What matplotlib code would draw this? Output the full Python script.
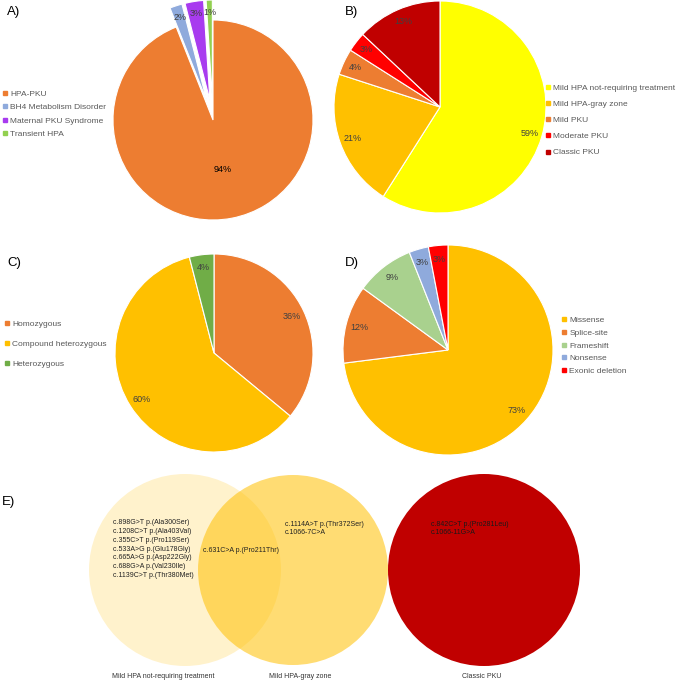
import numpy as np
import matplotlib
matplotlib.use("Agg")
import matplotlib.pyplot as plt
from matplotlib.lines import Line2D
from matplotlib.patches import Circle

plt.rcParams['font.family'] = ['Liberation Sans', 'DejaVu Sans']

# ---------------- DATA ----------------
a_labels = ["HPA-PKU", "BH4 Metabolism Disorder", "Maternal PKU Syndrome", "Transient HPA"]
a_values = [94, 2, 3, 1]
a_colors = ["#ED7D31", "#8FAADC", "#A83BEF", "#92D050"]

b_labels = ["Mild HPA not-requiring treatment", "Mild HPA-gray zone", "Mild PKU",
            "Moderate PKU", "Classic PKU"]
b_values = [59, 21, 4, 3, 13]
b_colors = ["#FFFF00", "#FFC000", "#ED7D31", "#FF0000", "#C00000"]

c_labels = ["Homozygous", "Compound heterozygous", "Heterozygous"]
c_values = [36, 60, 4]
c_colors = ["#ED7D31", "#FFC000", "#70AD47"]

d_labels = ["Missense", "Splice-site", "Frameshift", "Nonsense", "Exonic deletion"]
d_values = [73, 12, 9, 3, 3]
d_colors = ["#FFC000", "#ED7D31", "#A9D18E", "#8FAADC", "#FF0000"]

venn_only_mild = ["c.898G>T p.(Ala300Ser)", "c.1208C>T p.(Ala403Val)",
                  "c.355C>T p.(Pro119Ser)", "c.533A>G p.(Glu178Gly)",
                  "c.665A>G p.(Asp222Gly)", "c.688G>A p.(Val230Ile)",
                  "c.1139C>T p.(Thr380Met)"]
venn_shared = ["c.631C>A p.(Pro211Thr)"]
venn_only_gray = ["c.1114A>T p.(Thr372Ser)", "c.1066-7C>A"]
venn_classic = ["c.842C>T p.(Pro281Leu)", "c.1066-11G>A"]
venn_names = ["Mild HPA not-requiring treatment", "Mild HPA-gray zone", "Classic PKU"]
# --------------------------------------

W, H = 677, 685
fig = plt.figure(figsize=(W / 100, H / 100), dpi=100)

TXT = "#404040"
LEG = "#595959"


def pie_axes(cx, cy, r):
    # square axes (pixel placement) so a radius-1 pie lands at (cx, cy) with radius r
    s = 2.5 * r
    return fig.add_axes([(cx - s / 2) / W, (H - cy - s / 2) / H, s / W, s / H])


def draw_pie(cx, cy, r, values, colors, pctd, explode=None):
    ax = pie_axes(cx, cy, r)
    wedges, _, autotexts = ax.pie(
        values, colors=colors, startangle=90, counterclock=False,
        explode=explode, autopct="%1.0f%%", pctdistance=pctd,
        wedgeprops=dict(edgecolor="white", linewidth=0.8),
        textprops=dict(fontsize=6.5, color=TXT))
    ax.set_xlim(-1.25, 1.25)
    ax.set_ylim(-1.25, 1.25)
    ax.set_aspect("equal")
    ax.axis("off")
    return ax, wedges, autotexts


def add_legend(labels, colors, x, y, spacing):
    handles = [Line2D([], [], marker="s", linestyle="none", markersize=3.2,
                      markerfacecolor=c, markeredgecolor=c) for c in colors]
    leg = fig.legend(handles, labels, loc="upper left",
                     bbox_to_anchor=(x / W, 1 - y / H), frameon=False,
                     fontsize=6, labelcolor=LEG, handlelength=0.6,
                     handletextpad=0.4, labelspacing=spacing, borderpad=0,
                     borderaxespad=0)
    return leg


# -------- A --------
axA, wA, tA = draw_pie(213, 120, 100, a_values, a_colors, 0.88,
                       explode=[0, 0.2, 0.2, 0.2])
px, py = tA[0].get_position()
tA[0].set_position((px * 0.5 / 0.88, py * 0.5 / 0.88))
tA[0].set_color("black")
add_legend(a_labels, a_colors, 2, 90, 0.68)

# -------- B --------
draw_pie(440, 107, 106, b_values, b_colors, 0.88)
add_legend(b_labels, b_colors, 545, 84, 1.0)

# -------- C --------
draw_pie(214, 353, 99, c_values, c_colors, 0.87)
add_legend(c_labels, c_colors, 4, 320, 1.45)

# -------- D --------
draw_pie(448, 350, 105, d_values, d_colors, 0.87)
add_legend(d_labels, d_colors, 561, 316, 0.6)

# -------- E (Venn) --------
axE = fig.add_axes([0, 0, 1, 1])
axE.set_xlim(0, W)
axE.set_ylim(H, 0)
axE.axis("off")
axE.set_zorder(-1)

circles = [(185, 570, 96, "#FFC000", 0.2),
           (293, 570, 95, "#FFC000", 0.55),
           (484, 570, 96, "#C00000", 1.0)]
for cx, cy, r, col, al in circles:
    axE.add_patch(Circle((cx, cy), r, facecolor=col, alpha=al, edgecolor="none"))

fs = 5
for i, t in enumerate(venn_only_mild):
    axE.text(113, 523 + i * 8.7, t, fontsize=fs, color="#222222", va="center")
for i, t in enumerate(venn_shared):
    axE.text(203, 550 + i * 8.7, t, fontsize=fs, color="#222222", va="center")
for i, t in enumerate(venn_only_gray):
    axE.text(285, 524 + i * 8.7, t, fontsize=fs, color="#222222", va="center")
for i, t in enumerate(venn_classic):
    axE.text(431, 524 + i * 8.7, t, fontsize=fs, color="#1a1a1a", va="center")

for x, name in zip([163, 300, 482], venn_names):
    axE.text(x, 677, name, fontsize=fs, color="#333333", ha="center", va="center")

# -------- panel letters --------
for x, y, s in [(7, 12, "A)"), (345, 12, "B)"), (7, 263, "C)"),
                (345, 263, "D)"), (2, 502, "E)")]:
    axE.text(x, y, s, fontsize=9.5, color="black", va="center")

fig.savefig("out.png", dpi=100)
